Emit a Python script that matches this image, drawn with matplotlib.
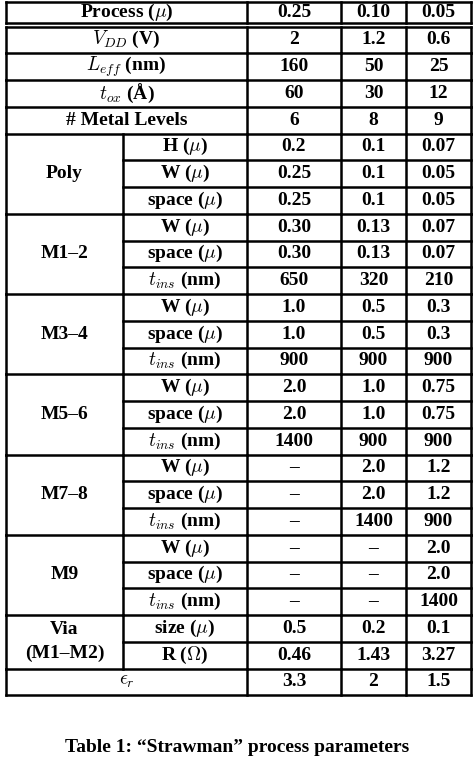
import matplotlib
matplotlib.use("Agg")
import matplotlib.pyplot as plt

plt.rcParams['mathtext.fontset'] = 'cm'
plt.rcParams['font.family'] = ['Liberation Serif', 'DejaVu Serif']

header = ["Process ($\\mu$)", "0.25", "0.10", "0.05"]
single_labels = ["$V_{DD}$ (V)", "$L_{eff}$ (nm)", "$t_{ox}$ (Å)", "# Metal Levels"]
single_vals = [["2", "1.2", "0.6"], ["160", "50", "25"], ["60", "30", "12"], ["6", "8", "9"]]
groups = ["Poly", "M1–2", "M3–4", "M5–6", "M7–8", "M9"]
group_subs = [["H ($\\mu$)", "W ($\\mu$)", "space ($\\mu$)"]] + \
    [["W ($\\mu$)", "space ($\\mu$)", "$t_{ins}$ (nm)"]] * 5
group_vals = [
    [["0.2", "0.1", "0.07"], ["0.25", "0.1", "0.05"], ["0.25", "0.1", "0.05"]],
    [["0.30", "0.13", "0.07"], ["0.30", "0.13", "0.07"], ["650", "320", "210"]],
    [["1.0", "0.5", "0.3"], ["1.0", "0.5", "0.3"], ["900", "900", "900"]],
    [["2.0", "1.0", "0.75"], ["2.0", "1.0", "0.75"], ["1400", "900", "900"]],
    [["–", "2.0", "1.2"], ["–", "2.0", "1.2"], ["–", "1400", "900"]],
    [["–", "–", "2.0"], ["–", "–", "2.0"], ["–", "–", "1400"]],
]
via_subs = ["size ($\\mu$)", "R ($\\Omega$)"]
via_vals = [["0.5", "0.2", "0.1"], ["0.46", "1.43", "3.27"]]
eps_label = "$\\epsilon_r$"
eps_vals = ["3.3", "2", "1.5"]
caption = "Table 1: “Strawman” process parameters"

fig = plt.figure(figsize=(4.74, 7.66), dpi=100)
ax = fig.add_axes([0, 0, 1, 1])
ax.set_xlim(0, 474); ax.set_ylim(766, 0); ax.axis('off')

L, S, C1, C2, C3, R = 6, 123, 247, 341, 406, 471
cols = [(C1, C2), (C2, C3), (C3, R)]
fs = 14
lw = 1.8
kw = dict(fontsize=fs, fontweight='bold', ha='center', va='center')

def hl(y, x0=L, x1=R):
    ax.plot([x0, x1], [y, y], color='black', lw=lw)
def vl(x, y0, y1):
    ax.plot([x, x], [y0, y1], color='black', lw=lw)

hy0, hy1 = 2, 23
hl(hy0); hl(hy1)
for x in [L, C1, C2, C3, R]:
    vl(x, hy0, hy1)
ax.text((L + C1) / 2, (hy0 + hy1) / 2, header[0], **kw)
for (a, b), t in zip(cols, header[1:]):
    ax.text((a + b) / 2, (hy0 + hy1) / 2, t, **kw)

top = 26.5
rh = 26.75
hl(top)
y = top
def vals_row(y, vals):
    for (a, b), t in zip(cols, vals):
        ax.text((a + b) / 2, y + rh / 2, t, **kw)

for lab, v in zip(single_labels, single_vals):
    ax.text((L + C1) / 2, y + rh / 2, lab, **kw)
    vals_row(y, v)
    for x in [L, C1, C2, C3, R]:
        vl(x, y, y + rh)
    y += rh
    hl(y)

def group(name_lines, subs, vals):
    global y
    n = len(subs)
    y0 = y
    ax.text((L + S) / 2, y0 + n * rh / 2, name_lines, linespacing=1.5, **kw)
    for s, v in zip(subs, vals):
        ax.text((S + C1) / 2, y + rh / 2, s, **kw)
        vals_row(y, v)
        y += rh
        hl(y, S if (y < y0 + n * rh - 1) else L, R)
    for x in [L, S, C1, C2, C3, R]:
        vl(x, y0, y)

for g, subs, vals in zip(groups, group_subs, group_vals):
    group(g, subs, vals)
group("Via\n(M1–M2)", via_subs, via_vals)

ax.text((L + C1) / 2, y + rh / 2, eps_label, **kw)
vals_row(y, eps_vals)
for x in [L, C1, C2, C3, R]:
    vl(x, y, y + rh)
y += rh
hl(y)

ax.text(237, 748, caption, fontsize=fs, fontweight='bold', ha='center', va='center')

fig.savefig("out.png", dpi=100)
